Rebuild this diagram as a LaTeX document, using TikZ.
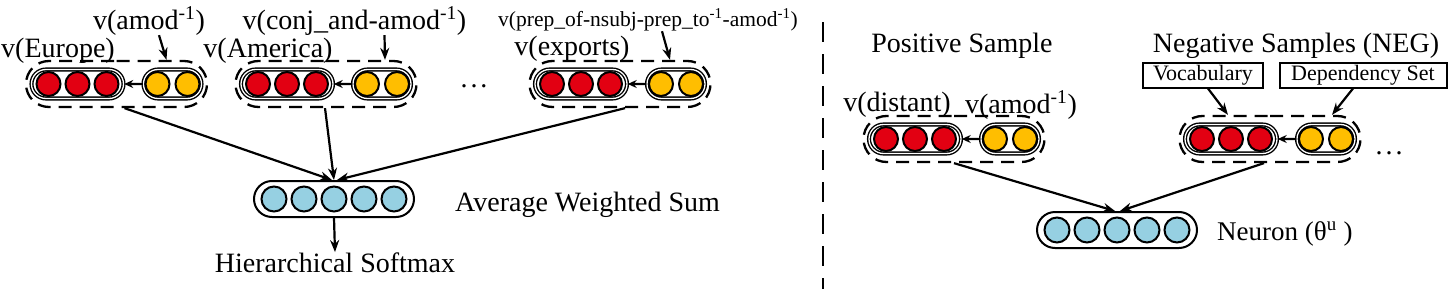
\documentclass[tikz,border=0pt]{standalone}
\usepackage{fontspec}
\setmainfont{Liberation Serif}
\usetikzlibrary{shapes.misc,arrows.meta}
\definecolor{cred}{RGB}{226,0,18}
\definecolor{cyel}{RGB}{255,190,0}
\definecolor{cblue}{RGB}{150,208,226}
\tikzset{
  dot/.style={circle,draw,line width=2pt,minimum size=24pt,inner sep=0pt},
  rdot/.style={dot,fill=cred},
  ydot/.style={dot,fill=cyel},
  bdot/.style={dot,fill=cblue,minimum size=25pt},
  pill/.style={rounded rectangle,draw,line width=1.4pt,double,double distance=1.3pt,inner sep=0pt,minimum height=29pt},
  dpill/.style={rounded rectangle,draw,line width=2.3pt,dash pattern=on 13pt off 8pt,inner sep=0pt,minimum height=46pt,minimum width=181pt},
  bpill/.style={rounded rectangle,draw,line width=2pt,inner sep=0pt,minimum height=36pt,minimum width=160pt},
  arr/.style={line width=2.2pt,-{Stealth[length=12pt,width=9pt]}},
  sarr/.style={line width=2.2pt,-{Stealth[length=9pt,width=8pt]}},
  lab/.style={font=\fontsize{28}{30}\selectfont,inner sep=0pt},
  slab/.style={font=\fontsize{21.5}{24}\selectfont,inner sep=0pt},
  boxlab/.style={draw,line width=2pt,font=\fontsize{22}{24}\selectfont,inner sep=0pt,minimum height=25pt},
}
\newcommand{\depgroup}[3]{%
  \node[dpill] (#1d) at (#2,#3) {};
  \node[pill,minimum width=92pt] (#1r) at ({#2-39},#3) {};
  \node[pill,minimum width=58pt] (#1y) at ({#2+56},#3) {};
  \node[rdot] (#1ra) at ({#2-68},#3) {};
  \node[rdot] (#1rb) at ({#2-39},#3) {};
  \node[rdot] (#1rc) at ({#2-10},#3) {};
  \node[ydot] (#1ya) at ({#2+41},#3) {};
  \node[ydot] (#1yb) at ({#2+71},#3) {};
  \draw[sarr] (#1y) -- (#1r);
}
\newcommand{\bluegroup}[3]{%
  \node[bpill] (#1) at (#2,#3) {};
  \node[bdot] (#1a) at ({#2-60},#3) {};
  \node[bdot] (#1b) at ({#2-30},#3) {};
  \node[bdot] (#1c) at (#2,#3) {};
  \node[bdot] (#1d) at ({#2+30},#3) {};
  \node[bdot] (#1e) at ({#2+60},#3) {};
}
\begin{document}
\begin{tikzpicture}[x=1pt,y=-1pt]
\useasboundingbox (0,0) rectangle (1449,289);
% left part
\depgroup{ga}{116.5}{84}
\depgroup{gb}{326}{84}
\depgroup{gc}{620}{84}
\node[lab] (la1) at (58,51) {v(Europe)};
\node[lab] (la2) at (149,21) {v(amod\textsuperscript{-1})};
\node[lab] (lb1) at (268,51) {v(America)};
\node[lab] (lb2) at (354.5,21) {v(conj\_and-amod\textsuperscript{-1})};
\node[lab] (lc1) at (572,49) {v(exports)};
\node[slab] (lc2) at (648,20) {v(prep\_of-nsubj-prep\_to\textsuperscript{-1}-amod\textsuperscript{-1})};
\node[lab] (dots1) at (474,86) {.\kern3pt.\kern3pt.};
\draw[arr] ([xshift=10pt]la2.south) -- ([xshift=50pt]gad.north);
\draw[arr] ([xshift=30pt]lb2.south) -- ([xshift=59pt]gbd.north);
\draw[arr] ([xshift=14pt]lc2.south) -- ([xshift=50pt]gcd.north);
\bluegroup{ba}{334}{199}
\draw[arr] ([xshift=8pt]gad.south) -- ([xshift=-2pt]ba.north);
\draw[arr] ([xshift=-1pt]gbd.south) -- (ba.north);
\draw[arr] ([xshift=5pt]gcd.south) -- ([xshift=3pt]ba.north);
\node[lab,anchor=base west] (aws) at (455,211) {Average Weighted Sum};
\node[lab,anchor=base] (hs) at (335,272) {Hierarchical Softmax};
\draw[arr] (ba.south) -- (hs.north);
% divider
\coordinate (dvt) at (823,22);
\coordinate (dvb) at (823,289);
\draw[line width=2.6pt,dash pattern=on 20pt off 12pt] (dvt) -- (dvb);
% right part
\node[lab] (ps) at (962,46) {Positive Sample};
\node[lab] (ns) at (1296,46) {Negative Samples (NEG)};
\depgroup{ha}{954}{139}
\depgroup{hb}{1270}{139}
\node[lab] (ha1) at (897,105) {v(distant)};
\node[lab] (ha2) at (1021,105) {v(amod\textsuperscript{-1})};
\node[boxlab,minimum width=120pt] (voc) at (1203,75) {Vocabulary};
\node[boxlab,minimum width=167pt] (dep) at (1363,75) {Dependency Set};
\draw[arr] ([xshift=5pt]voc.south) -- ([xshift=-42pt]hbd.north);
\draw[arr] ([xshift=-10pt]dep.south) -- ([xshift=62pt]hbd.north);
\node[lab] (dots2) at (1389,153) {.\kern3pt.\kern3pt.};
\bluegroup{bb}{1117}{230}
\draw[arr] (had.south) -- ([xshift=-2pt]bb.north);
\draw[arr] ([xshift=-6pt]hbd.south) -- ([xshift=3pt]bb.north);
\node[font=\fontsize{27}{29}\selectfont,inner sep=0pt,anchor=base west] (neu) at (1217,240) {Neuron (θ\textsuperscript{u} )};
\end{tikzpicture}
\end{document}
